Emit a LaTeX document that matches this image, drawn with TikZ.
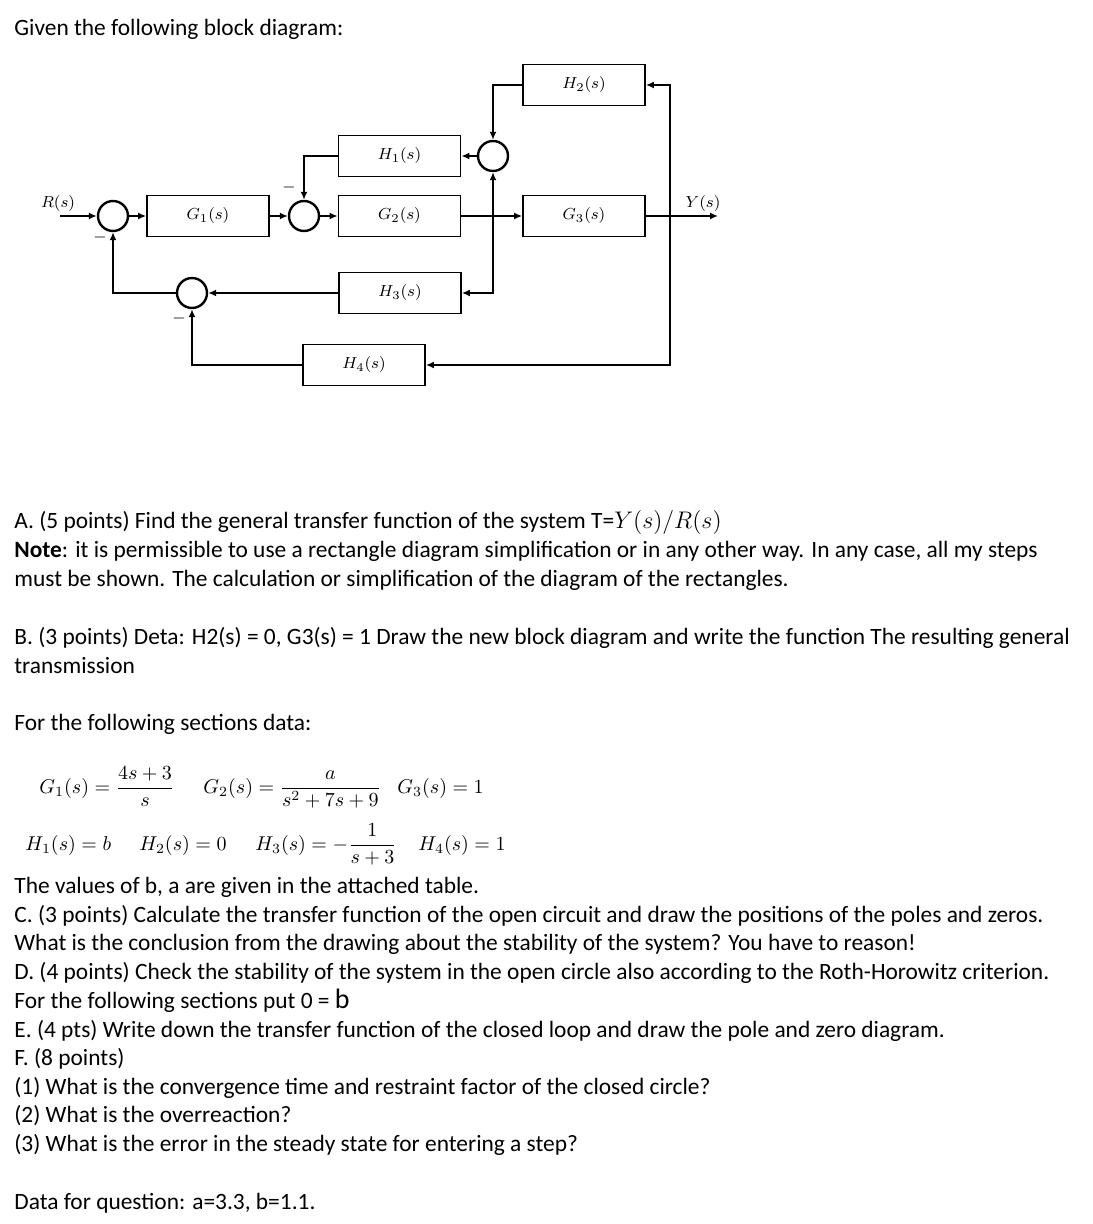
\documentclass[tikz,border=0pt]{standalone}
\usepackage{amsmath}
\usepackage{fontspec}
\setmainfont{Carlito}
\usetikzlibrary{arrows.meta}
\begin{document}
\begin{tikzpicture}[x=0.5pt,y=-0.5pt,
  blk/.style={draw, line width=0.9pt, minimum width=61pt, minimum height=20.5pt, inner sep=0pt, font=\fontsize{8}{10}\selectfont},
  sumc/.style={draw, circle, line width=1.2pt, minimum size=15pt, inner sep=0pt},
  sig/.style={line width=1pt, -{Latex[length=4pt,width=3.5pt]}},
  wire/.style={line width=1pt},
  lbl/.style={inner sep=0pt, font=\fontsize{8}{10}\selectfont},
  txt/.style={anchor=base west, inner sep=0pt, font=\fontsize{11.7}{14}\selectfont},
  eqn/.style={anchor=base west, inner sep=0pt, font=\fontsize{10}{12}\selectfont}
]
\useasboundingbox (0,0) rectangle (1092,1224);
\node[txt] (t0) at (14,36) {Given the following block diagram:};
% diagram
\node[sumc] (s1) at (113,216) {};
\node[blk] (g1) at (208,216) {$G_1(s)$};
\node[sumc] (s2) at (304,216) {};
\node[blk] (g2) at (399.5,216) {$G_2(s)$};
\node[blk] (h1) at (399.5,156) {$H_1(s)$};
\node[sumc] (s3) at (493,156) {};
\node[blk] (h2) at (584,85) {$H_2(s)$};
\node[blk] (g3) at (584,216) {$G_3(s)$};
\node[blk] (h3) at (400,293) {$H_3(s)$};
\node[sumc] (s4) at (192,293) {};
\node[blk] (h4) at (364,365) {$H_4(s)$};
\coordinate (rin) at (60,216);
\coordinate (yout) at (718,216);
\coordinate (tapA) at (493,216);
\coordinate (tapB) at (670,216);
\node[lbl] (rl) at (58,204) {$R(s)$};
\node[lbl] (yl) at (703,204) {$Y(s)$};
\node[lbl] (m1) at (100,238) {$-$};
\node[lbl] (m2) at (289,188) {$-$};
\node[lbl] (m4) at (179,319) {$-$};
\draw[sig] (rin) -- (s1);
\draw[sig] (s1) -- (g1);
\draw[sig] (g1) -- (s2);
\draw[sig] (s2) -- (g2);
\draw[sig] (g2) -- (g3);
\draw[sig] (g3) -- (yout);
\draw[sig] (s3) -- (h1);
\draw[sig] (h1.west) -| (s2.north);
\draw[sig] (h2.west) -| (s3.north);
\draw[sig] (tapA) -- (s3);
\draw[sig] (tapA) |- (h3.east);
\draw[sig] (tapB) |- (h2.east);
\draw[sig] (tapB) |- (h4.east);
\draw[sig] (h3.west) -- (s4.east);
\draw[sig] (s4.west) -| (s1.south);
\draw[sig] (h4.west) -| (s4.south);
% text
\node[txt] (ta) at (14,528) {A. (5 points) Find the general transfer function of the system T=$Y(s)/R(s)$};
\node[txt] (tn) at (14,557) {\textbf{Note}: it is permissible to use a rectangle diagram simplification or in any other way. In any case, all my steps};
\node[txt] (tm) at (14,586) {must be shown. The calculation or simplification of the diagram of the rectangles.};
\node[txt] (tb) at (14,644) {B. (3 points) Deta: H2(s) = 0, G3(s) = 1 Draw the new block diagram and write the function The resulting general};
\node[txt] (tt) at (14,673) {transmission};
\node[txt] (tf) at (14,730) {For the following sections data:};
% equations
\node[eqn] (e1) at (39,793) {$G_1(s)=\dfrac{4s+3}{s}$};
\node[eqn] (e2) at (203,793) {$G_2(s)=\dfrac{a}{s^2+7s+9}$};
\node[eqn] (e3) at (397,793) {$G_3(s)=1$};
\node[eqn] (e4) at (25,850) {$H_1(s)=b$};
\node[eqn] (e5) at (139,850) {$H_2(s)=0$};
\node[eqn] (e6) at (255,850) {$H_3(s)=-\dfrac{1}{s+3}$};
\node[eqn] (e7) at (418,850) {$H_4(s)=1$};
\node[txt] (tv) at (14,893) {The values of b, a are given in the attached table.};
\node[txt] (tc) at (14,922) {C. (3 points) Calculate the transfer function of the open circuit and draw the positions of the poles and zeros.};
\node[txt] (tw) at (14,950) {What is the conclusion from the drawing about the stability of the system? You have to reason!};
\node[txt] (td) at (14,979) {D. (4 points) Check the stability of the system in the open circle also according to the Roth-Horowitz criterion.};
\node[txt] (tp) at (14,1008) {For the following sections put 0 = {\fontsize{14}{16}\selectfont b}};
\node[txt] (te) at (14,1037) {E. (4 pts) Write down the transfer function of the closed loop and draw the pole and zero diagram.};
\node[txt] (tF) at (14,1065) {F. (8 points)};
\node[txt] (t1) at (14,1094) {(1) What is the convergence time and restraint factor of the closed circle?};
\node[txt] (t2) at (14,1122) {(2) What is the overreaction?};
\node[txt] (t3) at (14,1151) {(3) What is the error in the steady state for entering a step?};
\node[txt] (tdq) at (14,1209) {Data for question: a=3.3, b=1.1.};
\end{tikzpicture}
\end{document}
